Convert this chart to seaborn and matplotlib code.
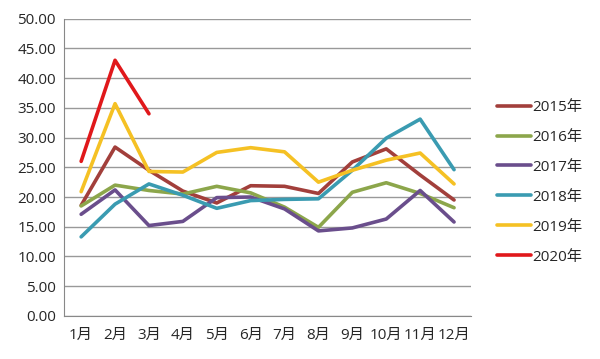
import pandas as pd
import numpy as np
import matplotlib.pyplot as plt
import seaborn as sns

# Monthly values
months = ['1月', '2月', '3月', '4月', '5月', '6月', '7月', '8月', '9月', '10月', '11月', '12月']
years = ['2015年', '2016年', '2017年', '2018年', '2019年', '2020年']

y2015 = [18.6, 28.4, 24.5, 21.0, 19.0, 21.9, 21.8, 20.6, 25.9, 28.1, 23.7, 19.5]
y2016 = [18.5, 22.0, 21.1, 20.5, 21.8, 20.7, 18.3, 14.9, 20.8, 22.4, 20.6, 18.2]
y2017 = [17.1, 21.2, 15.2, 15.9, 19.9, 20.0, 18.0, 14.3, 14.8, 16.3, 21.1, 15.8]
y2018 = [13.3, 18.8, 22.2, 20.3, 18.1, 19.4, 19.6, 19.7, 24.5, 29.9, 33.1, 24.6]
y2019 = [20.9, 35.7, 24.3, 24.2, 27.5, 28.3, 27.6, 22.5, 24.5, 26.2, 27.4, 22.2]
y2020 = [26.0, 43.0, 34.0]

colors = ['#A23F3B', '#8CA64B', '#6A4E8C', '#3A9BB1', '#F5C124', '#E0181B']

series = [y2015, y2016, y2017, y2018, y2019, y2020]
rows = []
for yr, vals in zip(years, series):
    for i, v in enumerate(vals):
        rows.append({'month': i, 'year': yr, 'value': v})
df = pd.DataFrame(rows)

sns.set_style('white')
plt.rcParams['font.family'] = ['Open Sans', 'Noto Sans CJK SC', 'DejaVu Sans']

fig = plt.figure(figsize=(6, 3.59), dpi=100)
ax = fig.add_axes([0.107, 0.12, 0.678, 0.828])

sns.lineplot(data=df, x='month', y='value', hue='year', hue_order=years,
             palette=colors, linewidth=2.6, ax=ax, legend=True)

ax.set_xlim(-0.5, 11.5)
ax.set_ylim(0, 50)
ax.set_yticks(np.arange(0, 50.1, 5))
ax.set_yticklabels([f'{v:.2f}' for v in np.arange(0, 50.1, 5)], fontsize=11)
ax.set_xticks(range(12))
ax.set_xticklabels(months, fontsize=11)
ax.set_xticks(np.arange(-0.5, 12, 1), minor=True)
ax.tick_params(axis='x', which='major', length=0, pad=9)
ax.tick_params(axis='x', which='minor', length=4, color='#888888', width=1)
ax.tick_params(axis='y', length=4, color='#888888', width=1, pad=2)
ax.yaxis.grid(True, color='#999999', linewidth=1)
ax.set_axisbelow(True)
for s in ['top', 'right']:
    ax.spines[s].set_visible(False)
for s in ['left', 'bottom']:
    ax.spines[s].set_color('#888888')
ax.set_xlabel('')
ax.set_ylabel('')

ax.legend(loc='upper left', bbox_to_anchor=(1.03, 0.773), frameon=False,
          fontsize=11, handlelength=2.2, handletextpad=0.1, labelspacing=0.98)

plt.savefig('out.png', dpi=100)
